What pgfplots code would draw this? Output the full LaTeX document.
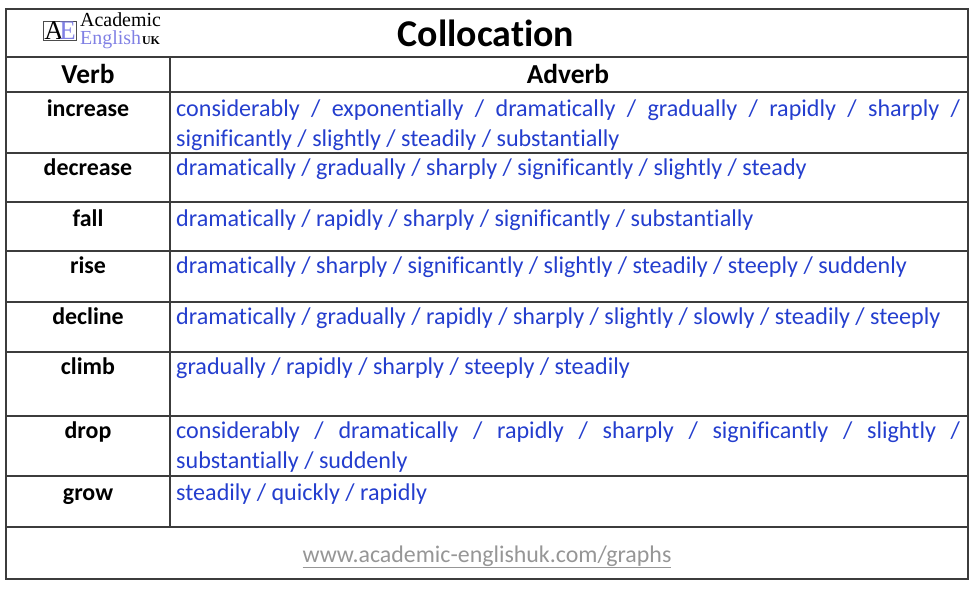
\documentclass[border=0pt]{standalone}
\usepackage{pgfplots}
\pgfplotsset{compat=1.18}
\usepackage{fontspec}
\setmainfont{Carlito}[Ligatures={NoCommon}]
\newfontfamily\logofont{Liberation Serif}
\definecolor{adv}{RGB}{36,62,206}
\definecolor{rule}{RGB}{60,60,60}
\definecolor{lav}{RGB}{128,128,228}
\definecolor{link}{RGB}{150,150,150}

\newcommand{\vb}[1]{\fontsize{24}{28}\selectfont\bfseries #1}
\newcommand{\hd}[1]{\fontsize{27.5}{30}\selectfont\bfseries #1}
\newcommand{\ad}[1]{\fontsize{24.2}{28}\selectfont\color{adv}#1}

\begin{document}
\begin{tikzpicture}
\begin{axis}[
    scale only axis,
    width=980bp, height=588bp,
    xmin=0, xmax=980,
    ymin=0, ymax=588,
    y dir=reverse,
    axis lines=none,
    clip=false,
]
\path (rel axis cs:0,0) rectangle (rel axis cs:1,1);

% table rules
\draw[rule, line width=1.6pt] (axis cs:6,9) rectangle (axis cs:968,579);
\draw[rule, line width=1.3pt] (axis cs:6,57) -- (axis cs:968,57);
\draw[rule, line width=1.3pt] (axis cs:6,92) -- (axis cs:968,92);
\draw[rule, line width=1.3pt] (axis cs:6,153) -- (axis cs:968,153);
\draw[rule, line width=1.3pt] (axis cs:6,202) -- (axis cs:968,202);
\draw[rule, line width=1.3pt] (axis cs:6,251) -- (axis cs:968,251);
\draw[rule, line width=1.3pt] (axis cs:6,302) -- (axis cs:968,302);
\draw[rule, line width=1.3pt] (axis cs:6,352) -- (axis cs:968,352);
\draw[rule, line width=1.3pt] (axis cs:6,416) -- (axis cs:968,416);
\draw[rule, line width=1.3pt] (axis cs:6,476) -- (axis cs:968,476);
\draw[rule, line width=1.3pt] (axis cs:6,527) -- (axis cs:968,527);
\draw[rule, line width=1.3pt] (axis cs:170,57) -- (axis cs:170,527);

% logo
\node[draw=black!70, line width=0.9pt, inner xsep=0.5pt, inner ysep=1pt, anchor=center]
    at (axis cs:60,31) {\logofont\fontsize{27}{27}\selectfont A\kern-4.5pt\textcolor{lav}{E}};
\node[anchor=base west, inner sep=0pt] at (axis cs:80,27)
    {\logofont\fontsize{20}{20}\selectfont Academic};
\node[anchor=base west, inner sep=0pt] at (axis cs:80,45)
    {\logofont\fontsize{20}{20}\selectfont\textcolor{lav}{English}\kern1pt{\fontsize{12}{12}\selectfont\bfseries UK}};

% title and header
\node[anchor=base, inner sep=0pt] at (axis cs:486,47)
    {\fontsize{38}{40}\selectfont\bfseries Collocation};
\node[anchor=base, inner sep=0pt] at (axis cs:88,84) {\hd{Verb}};
\node[anchor=base, inner sep=0pt] at (axis cs:568,84) {\hd{Adverb}};

% verbs
\node[anchor=base, inner sep=0pt] at (axis cs:88,116) {\vb{increase}};
\node[anchor=base, inner sep=0pt] at (axis cs:88,175) {\vb{decrease}};
\node[anchor=base, inner sep=0pt] at (axis cs:88,226) {\vb{fall}};
\node[anchor=base, inner sep=0pt] at (axis cs:88,273) {\vb{rise}};
\node[anchor=base, inner sep=0pt] at (axis cs:88,324) {\vb{decline}};
\node[anchor=base, inner sep=0pt] at (axis cs:88,374) {\vb{climb}};
\node[anchor=base, inner sep=0pt] at (axis cs:88,438) {\vb{drop}};
\node[anchor=base, inner sep=0pt] at (axis cs:88,500) {\vb{grow}};

% adverbs
\node[anchor=base west, inner sep=0pt] at (axis cs:176,116)
    {\ad{\makebox[784bp][s]{considerably / exponentially / dramatically / gradually / rapidly / sharply /}}};
\node[anchor=base west, inner sep=0pt] at (axis cs:176,146)
    {\ad{significantly / slightly / steadily / substantially}};
\node[anchor=base west, inner sep=0pt] at (axis cs:176,175)
    {\ad{dramatically / gradually / sharply / significantly / slightly / steady}};
\node[anchor=base west, inner sep=0pt] at (axis cs:176,226)
    {\ad{dramatically / rapidly / sharply / significantly / substantially}};
\node[anchor=base west, inner sep=0pt] at (axis cs:176,273)
    {\ad{dramatically / sharply / significantly / slightly / steadily / steeply / suddenly}};
\node[anchor=base west, inner sep=0pt] at (axis cs:176,324)
    {\ad{dramatically / gradually / rapidly / sharply / slightly / slowly / steadily / steeply}};
\node[anchor=base west, inner sep=0pt] at (axis cs:176,374)
    {\ad{gradually / rapidly / sharply / steeply / steadily}};
\node[anchor=base west, inner sep=0pt] at (axis cs:176,438)
    {\ad{\makebox[784bp][s]{considerably / dramatically / rapidly / sharply / significantly / slightly /}}};
\node[anchor=base west, inner sep=0pt] at (axis cs:176,468)
    {\ad{substantially / suddenly}};
\node[anchor=base west, inner sep=0pt] at (axis cs:176,500)
    {\ad{steadily / quickly / rapidly}};

% footer link
\node[anchor=base, inner sep=0pt] at (axis cs:487,562)
    {\fontsize{24}{28}\selectfont\color{link}\underline{www.academic-englishuk.com/graphs}};
\end{axis}
\end{tikzpicture}
\end{document}
